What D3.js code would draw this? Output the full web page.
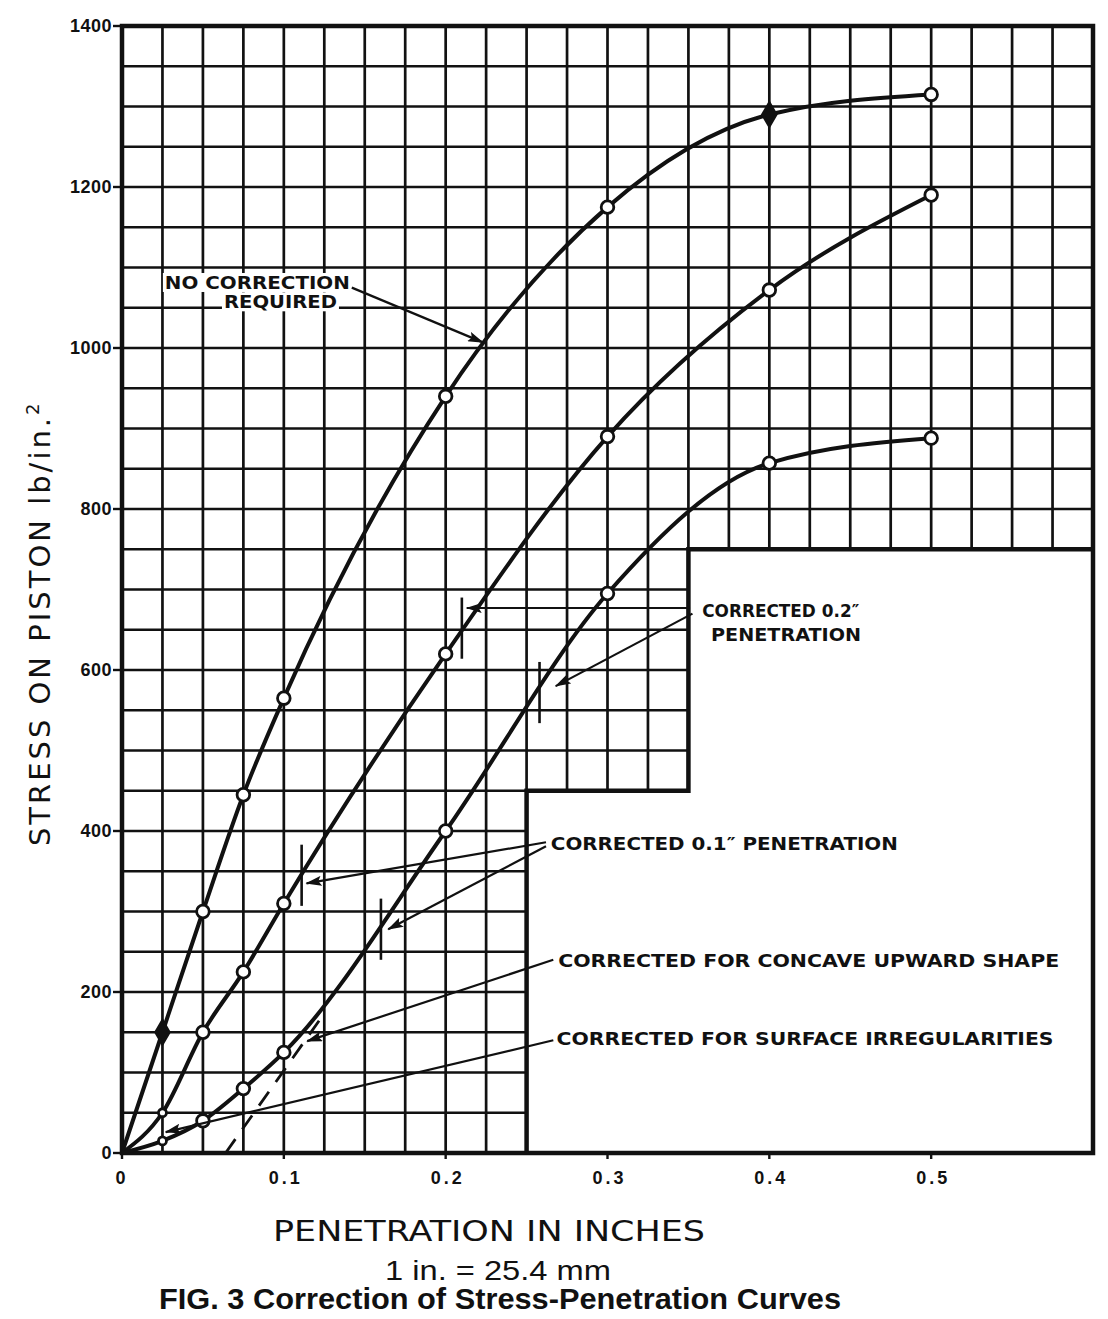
<!DOCTYPE html>
<html>
<head>
<meta charset="utf-8">
<script src="https://cdn.jsdelivr.net/npm/d3@7"></script>
<style>
  body { margin: 0; background: #fff; }
  svg { display: block; }
  .grid line { stroke: #111; stroke-width: 2.7; }
  .curve { fill: none; stroke: #111; stroke-width: 4; }
  .leader { fill: none; stroke: #111; stroke-width: 2.2; }
  .tick-label { font-family: "Liberation Sans", Arial, sans-serif; font-weight: bold; font-size: 18px; fill: #111; }
  .note { font-family: "DejaVu Sans", sans-serif; font-weight: bold; font-size: 18px; fill: #111; }
  .axis-title { font-family: "DejaVu Sans", sans-serif; font-size: 28px; fill: #111; }
</style>
</head>
<body>
<div id="chart"></div>
<script>
// penetration (in.) at which readings were taken
const penetration = [0, 0.025, 0.05, 0.075, 0.1, 0.2, 0.3, 0.4, 0.5];

// stress on piston, lb/in.^2
const noCorrection = [0, 150, 300, 445, 565, 940, 1175, 1290, 1315];
const correctedA = [0, 50, 150, 225, 310, 620, 890, 1072, 1190];
const correctedB = [0, 15, 40, 80, 125, 400, 695, 857, 888];

// marker style per reading
const markersNoCorrection = ['none', 'diamond', 'circle', 'circle', 'circle', 'circle', 'circle', 'diamond', 'circle'];
const markersA = ['none', 'small', 'circle', 'circle', 'circle', 'circle', 'circle', 'circle', 'circle'];
const markersB = ['none', 'small', 'circle', 'circle', 'circle', 'circle', 'circle', 'circle', 'circle'];

// dashed tangent (concave upward correction)
const concaveTangent = [[0.064, 0], [0.122, 165]];

// corrected penetration marks [x, stress on curve]
const correctionTicks = [[0.111, 345], [0.21, 652], [0.16, 278], [0.258, 572]];

// leader lines [fromX, fromY, toX, toY]
const leaders = [
  [0.142, 1075, 0.223, 1007],
  [0.351, 677, 0.213, 677],
  [0.3525, 670, 0.268, 580],
  [0.262, 386, 0.114, 335],
  [0.262, 381, 0.1645, 278],
  [0.2665, 240, 0.1144, 139],
  [0.2665, 140, 0.027, 26]
];

// annotation texts [x, y, text, width]
const notes = [
  [0.0265, 1082, 'NO CORRECTION', 185],
  [0.063, 1058, 'REQUIRED', 113],
  [0.3585, 675, 'CORRECTED  0.2\u2033', 157],
  [0.364, 645, 'PENETRATION', 150],
  [0.265, 385, 'CORRECTED 0.1\u2033 PENETRATION', 347],
  [0.2695, 240, 'CORRECTED  FOR  CONCAVE   UPWARD  SHAPE', 501],
  [0.2685, 143, 'CORRECTED  FOR  SURFACE  IRREGULARITIES', 497]
];

const xTicks = [0, 0.1, 0.2, 0.3, 0.4, 0.5];
const xTickLabels = ['0', '0.1', '0.2', '0.3', '0.4', '0.5'];
const yTicks = [0, 200, 400, 600, 800, 1000, 1200, 1400];

// grid region (lower right is left blank)
const gridOutline = [[0, 0], [0.25, 0], [0.25, 450], [0.35, 450], [0.35, 750], [0.6, 750], [0.6, 1400], [0, 1400]];

class StressChart {
  constructor(_config) {
    this.config = {
      parentElement: _config.parentElement,
      containerWidth: 1108,
      containerHeight: 1319,
      margin: {top: 26, right: 15, bottom: 166, left: 122}
    };
    this.initVis();
  }

  initVis() {
    let vis = this;
    vis.width = vis.config.containerWidth - vis.config.margin.left - vis.config.margin.right;
    vis.height = vis.config.containerHeight - vis.config.margin.top - vis.config.margin.bottom;

    vis.svg = d3.select(vis.config.parentElement).append('svg')
        .attr('width', vis.config.containerWidth)
        .attr('height', vis.config.containerHeight);

    vis.chart = vis.svg.append('g')
        .attr('transform', `translate(${vis.config.margin.left},${vis.config.margin.top})`);

    vis.xScale = d3.scaleLinear().domain([0, 0.6]).range([0, vis.width]);
    vis.yScale = d3.scaleLinear().domain([0, 1400]).range([vis.height, 0]);

    // arrow head for leaders
    vis.svg.append('defs').append('marker')
        .attr('id', 'arrow')
        .attr('viewBox', '0 0 16 10')
        .attr('refX', 15).attr('refY', 5)
        .attr('markerWidth', 16).attr('markerHeight', 10)
        .attr('markerUnits', 'userSpaceOnUse')
        .attr('orient', 'auto')
      .append('path')
        .attr('d', 'M0,0 L16,5 L0,10 L3,5 Z')
        .attr('fill', '#111');

    vis.svg.select('defs').append('clipPath')
        .attr('id', 'grid-clip')
      .append('polygon')
        .attr('points', gridOutline.map(d => [vis.xScale(d[0]), vis.yScale(d[1])].join(',')).join(' '));

    vis.renderVis();
  }

  renderVis() {
    let vis = this;
    const x = vis.xScale, y = vis.yScale;

    // grid
    const grid = vis.chart.append('g').attr('class', 'grid').attr('clip-path', 'url(#grid-clip)');
    grid.selectAll('.vline')
        .data(d3.range(0, 25).map(i => i * 0.025))
      .join('line')
        .attr('x1', d => x(d)).attr('x2', d => x(d))
        .attr('y1', 0).attr('y2', vis.height);
    grid.selectAll('.hline')
        .data(d3.range(0, 29).map(i => i * 50))
      .join('line')
        .attr('y1', d => y(d)).attr('y2', d => y(d))
        .attr('x1', 0).attr('x2', vis.width);

    // frame and step border
    vis.chart.append('rect')
        .attr('width', vis.width).attr('height', vis.height)
        .attr('fill', 'none').attr('stroke', '#111').attr('stroke-width', 4.5);
    vis.chart.append('path')
        .attr('d', d3.line().x(d => x(d[0])).y(d => y(d[1]))(gridOutline.slice(1, 6)))
        .attr('fill', 'none').attr('stroke', '#111').attr('stroke-width', 4.5);

    // axis ticks
    vis.chart.selectAll('.ytick')
        .data(yTicks)
      .join('line')
        .attr('x1', -9).attr('x2', 0)
        .attr('y1', d => y(d)).attr('y2', d => y(d))
        .attr('stroke', '#111').attr('stroke-width', 2.4);
    vis.chart.selectAll('.ylabel')
        .data(yTicks)
      .join('text')
        .attr('class', 'tick-label')
        .attr('x', -10).attr('y', d => y(d) + 6)
        .attr('text-anchor', 'end')
        .style('letter-spacing', '0.5px')
        .text(d => d);
    vis.chart.selectAll('.xtick')
        .data(xTicks)
      .join('line')
        .attr('x1', d => x(d)).attr('x2', d => x(d))
        .attr('y1', vis.height).attr('y2', vis.height + 6)
        .attr('stroke', '#111').attr('stroke-width', 2.4);
    vis.chart.selectAll('.xlabel')
        .data(xTicks)
      .join('text')
        .attr('class', 'tick-label')
        .attr('x', (d, i) => x(d) + (i === 0 ? 0 : 2)).attr('y', vis.height + 31)
        .attr('text-anchor', 'middle')
        .style('letter-spacing', '3px')
        .text((d, i) => xTickLabels[i]);

    // curves
    const line = d3.line()
        .x(d => x(d[0])).y(d => y(d[1]))
        .curve(d3.curveMonotoneX);
    const series = [
      {values: noCorrection, markers: markersNoCorrection},
      {values: correctedA, markers: markersA},
      {values: correctedB, markers: markersB}
    ];
    series.forEach(s => {
      const pts = penetration.map((p, i) => [p, s.values[i], s.markers[i]]);
      vis.chart.append('path').attr('class', 'curve').attr('d', line(pts));
      vis.chart.selectAll(null)
          .data(pts.filter(d => d[2] !== 'none'))
        .join('path')
          .attr('transform', d => `translate(${x(d[0])},${y(d[1])})`)
          .attr('d', d => d[2] === 'diamond'
              ? d3.symbol(d3.symbolDiamond, 160)()
              : d3.symbol(d3.symbolCircle, d[2] === 'small' ? 50 : 125)())
          .attr('fill', d => d[2] === 'diamond' ? '#111' : '#fff')
          .attr('stroke', '#111')
          .attr('stroke-width', 2.8);
    });

    // dashed tangent
    vis.chart.append('path')
        .attr('d', d3.line().x(d => x(d[0])).y(d => y(d[1]))(concaveTangent))
        .attr('fill', 'none').attr('stroke', '#111').attr('stroke-width', 2.8)
        .attr('stroke-dasharray', '17,12');

    // corrected penetration marks
    vis.chart.selectAll('.ctick')
        .data(correctionTicks)
      .join('line')
        .attr('x1', d => x(d[0])).attr('x2', d => x(d[0]))
        .attr('y1', d => y(d[1] + 38)).attr('y2', d => y(d[1] - 38))
        .attr('stroke', '#111').attr('stroke-width', 2.6);

    // notes (white backing for the ones on the grid)
    const noteGroup = vis.chart.append('g');
    noteGroup.selectAll('text')
        .data(notes)
      .join('text')
        .attr('class', 'note')
        .attr('x', d => x(d[0])).attr('y', d => y(d[1]) + 7)
        .attr('textLength', d => d[3])
        .attr('lengthAdjust', 'spacingAndGlyphs')
        .text(d => d[2])
        .each(function(d, i) {
          if (i < 2) {
            const b = this.getBBox();
            noteGroup.insert('rect', 'text')
                .attr('x', b.x - 2).attr('y', b.y + 1)
                .attr('width', b.width + 4).attr('height', b.height - 2)
                .attr('fill', '#fff');
          }
        });

    // leaders
    vis.chart.selectAll('.leader')
        .data(leaders)
      .join('line')
        .attr('class', 'leader')
        .attr('x1', d => x(d[0])).attr('y1', d => y(d[1]))
        .attr('x2', d => x(d[2])).attr('y2', d => y(d[3]))
        .attr('marker-end', 'url(#arrow)');

    // titles
    const yTitle = vis.svg.append('text')
        .attr('class', 'axis-title')
        .attr('transform', `translate(50,${vis.config.margin.top + y(658)}) rotate(-90)`)
        .attr('text-anchor', 'middle')
        .style('font-size', '29px')
        .style('letter-spacing', '3px');
    yTitle.append('tspan').text('STRESS  ON  PISTON   lb/in.');
    yTitle.append('tspan').attr('dy', -11).style('font-size', '18px').text('2');

    vis.svg.append('text')
        .attr('class', 'axis-title')
        .attr('x', 489).attr('y', 1241)
        .attr('text-anchor', 'middle')
        .attr('textLength', 432)
        .attr('lengthAdjust', 'spacingAndGlyphs')
        .text('PENETRATION  IN  INCHES');

    vis.svg.append('text')
        .attr('x', 498).attr('y', 1280)
        .attr('text-anchor', 'middle')
        .attr('textLength', 226)
        .attr('lengthAdjust', 'spacingAndGlyphs')
        .style('font-family', '"Liberation Sans", Arial, sans-serif')
        .style('font-size', '28px')
        .attr('fill', '#111')
        .text('1 in. =  25.4 mm');

    vis.svg.append('text')
        .attr('x', 500).attr('y', 1309)
        .attr('text-anchor', 'middle')
        .attr('textLength', 682)
        .attr('lengthAdjust', 'spacingAndGlyphs')
        .style('font-family', '"Liberation Sans", Arial, sans-serif')
        .style('font-weight', 'bold')
        .style('font-size', '29px')
        .attr('fill', '#111')
        .text('FIG. 3 Correction of Stress-Penetration Curves');
  }
}

new StressChart({parentElement: '#chart'});
</script>
</body>
</html>
